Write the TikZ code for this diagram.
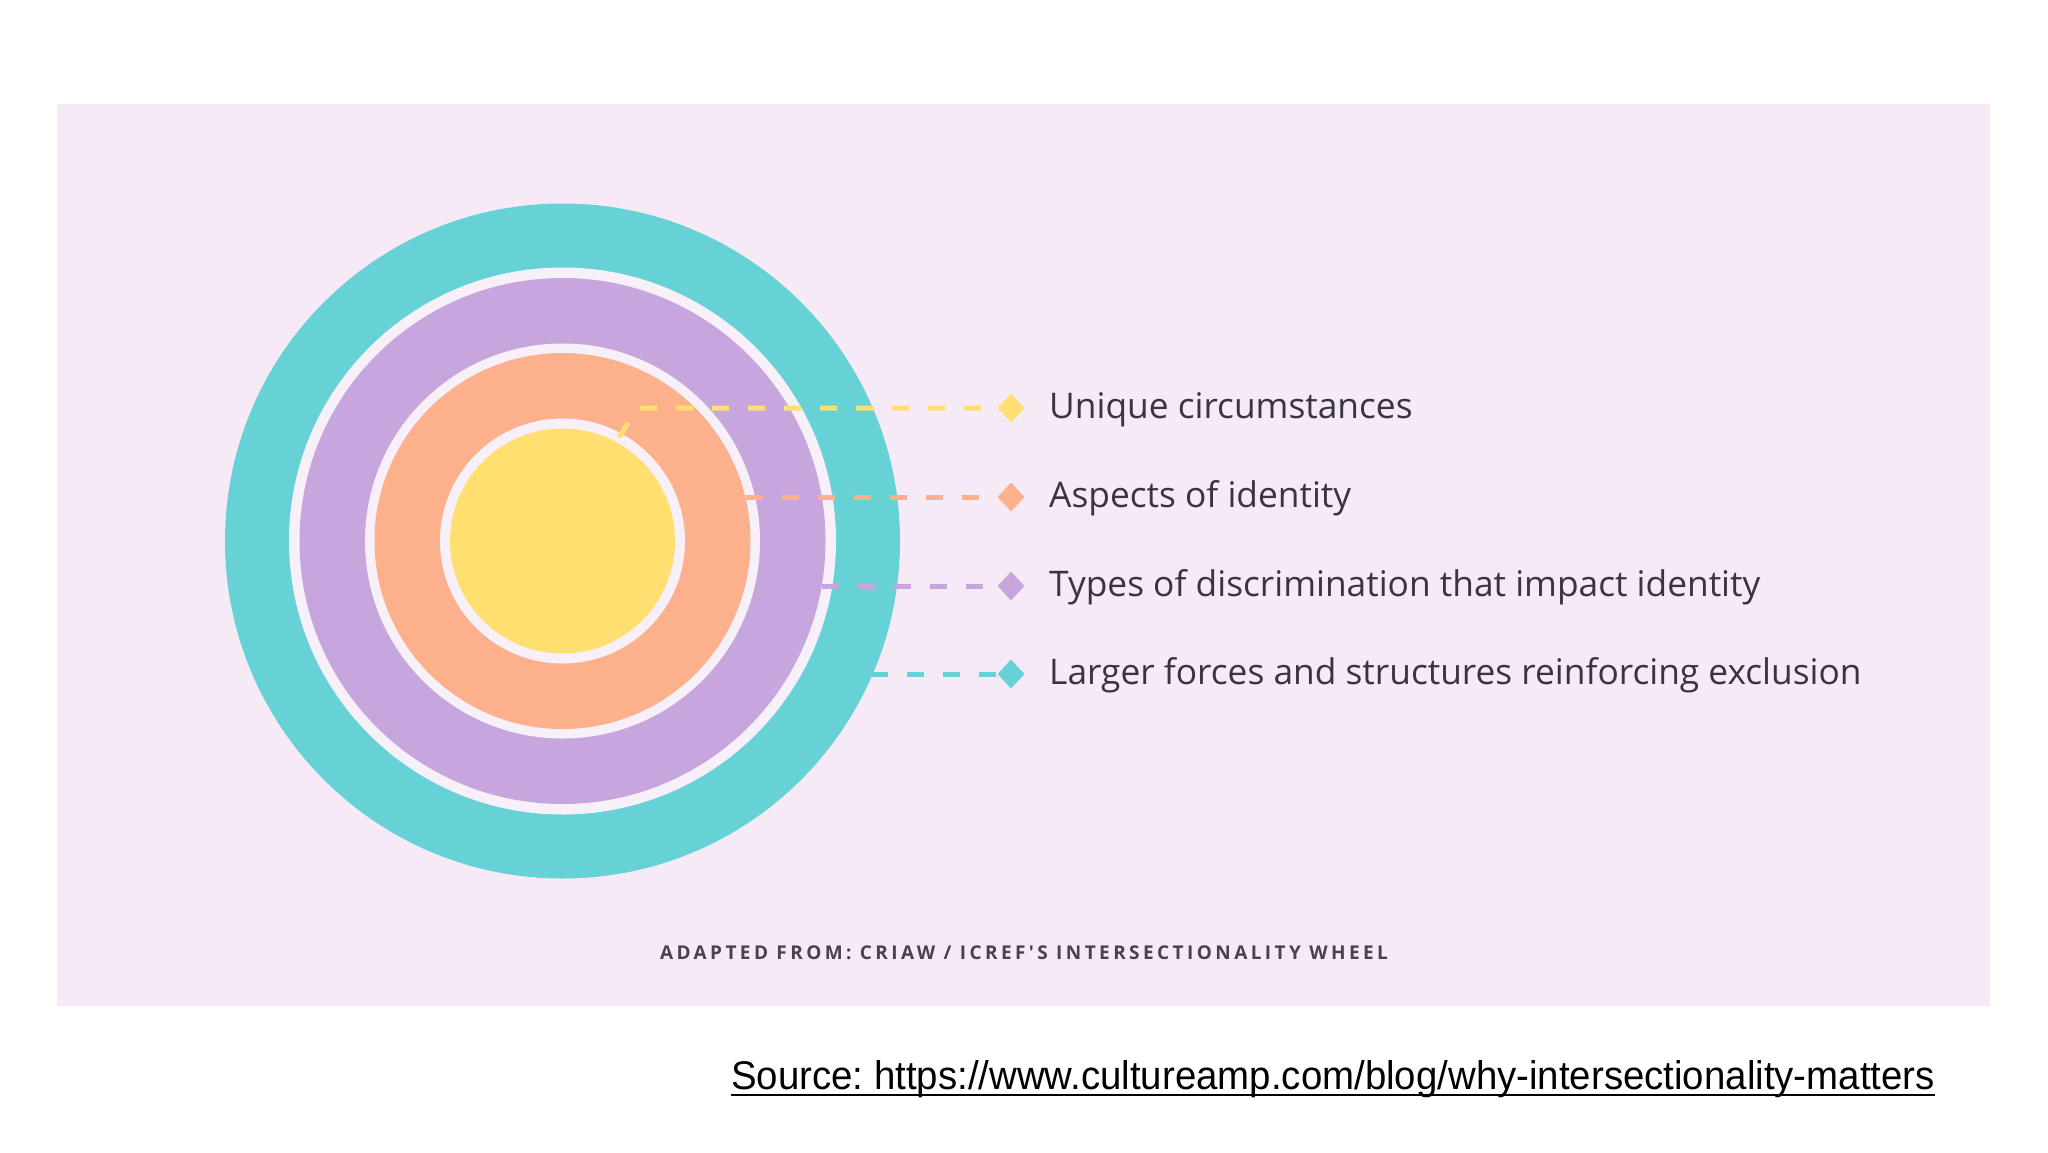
\documentclass[tikz,border=0pt]{standalone}
\usepackage{fontspec}
\usetikzlibrary{shapes.geometric}
\newfontfamily\labfont{Open Sans}
\newfontfamily\capfont[LetterSpace=18]{Open Sans}
\newfontfamily\srcfont{Liberation Sans}
\definecolor{panelbg}{HTML}{F5EAF5}
\definecolor{gapc}{HTML}{F8F0F8}
\definecolor{ringteal}{HTML}{66D2D6}
\definecolor{ringpurple}{HTML}{C6A6DD}
\definecolor{ringorange}{HTML}{FDB08C}
\definecolor{ringyellow}{HTML}{FEDF6F}
\definecolor{txt}{HTML}{3B3342}
\definecolor{captxt}{HTML}{4A4150}
\tikzset{
  ring/.style={circle, inner sep=0pt, outer sep=0pt},
  marker/.style={diamond, inner sep=0pt, minimum width=27pt, minimum height=29pt},
  lead/.style={line width=5pt, dash pattern=on 17pt off 19pt},
  lab/.style={anchor=base west, inner sep=0pt, text=txt, font=\labfont\fontsize{35.3}{42}\selectfont},
}
\frenchspacing
\begin{document}
\begin{tikzpicture}[x=1pt,y=-1pt]
\fill[white] (0,0) rectangle (2048,1152);
\useasboundingbox (0,0) rectangle (2048,1152);
\node[rectangle, fill=panelbg, inner sep=0pt, minimum width=1933pt, minimum height=902pt, anchor=north west] (panel) at (57,104) {};
% rings
\node[ring, fill=ringteal, minimum size=675pt] (rT) at (562.5,541) {};
\node[ring, fill=gapc, minimum size=547pt] (gT) at (562.5,541) {};
\node[ring, fill=ringpurple, minimum size=526pt] (rP) at (562.5,541) {};
\node[ring, fill=gapc, minimum size=395pt] (gP) at (562.5,541) {};
\node[ring, fill=ringorange, minimum size=376pt] (rO) at (562.5,541) {};
\node[ring, fill=gapc, minimum size=245pt] (gO) at (562.5,541) {};
\node[ring, fill=ringyellow, minimum size=225pt] (rY) at (562.5,541) {};
% markers
\node[marker, fill=ringyellow] (dY) at (1011,408) {};
\node[marker, fill=ringorange] (dO) at (1011,497) {};
\node[marker, fill=ringpurple] (dP) at (1011,586) {};
\node[marker, fill=ringteal] (dT) at (1011,674) {};
% start points
\coordinate (sY) at (619,437);
\coordinate (sO) at (746,497);
\coordinate (sP) at (822,586);
\coordinate (sT) at (871,674);
% leaders
\draw[lead, ringyellow] (sY) -- (634,414) .. controls (637,409) .. (646,408) -- (dY.west);
\draw[lead, ringorange] (sO) -- (dO.west);
\draw[lead, ringpurple] (sP) -- (dP.west);
\draw[lead, ringteal] (sT) -- (dT.west);
% labels
\node[lab] (lY) at (1049,418) {Unique circumstances};
\node[lab] (lO) at (1049,507) {Aspects of identity};
\node[lab] (lP) at (1049,596) {Types of discrimination that impact identity};
\node[lab] (lT) at (1049,684) {Larger forces and structures reinforcing exclusion};
% caption
\node[anchor=base, inner sep=0pt, text=captxt, font=\capfont\bfseries\fontsize{19}{22}\selectfont] (cap) at (1024,959) {ADAPTED FROM: CRIAW / ICREF'S INTERSECTIONALITY WHEEL};
% source
\node[anchor=base west, inner sep=0pt, text=black, font=\srcfont\fontsize{40}{48}\selectfont] (src) at (731,1089) {\scalebox{0.96}[1]{Source: https://www.cultureamp.com/blog/why-intersectionality-matters}};
\draw[black, line width=2.5pt] ([yshift=-6pt]src.base west) -- ([yshift=-6pt]src.base east);
\end{tikzpicture}
\end{document}
